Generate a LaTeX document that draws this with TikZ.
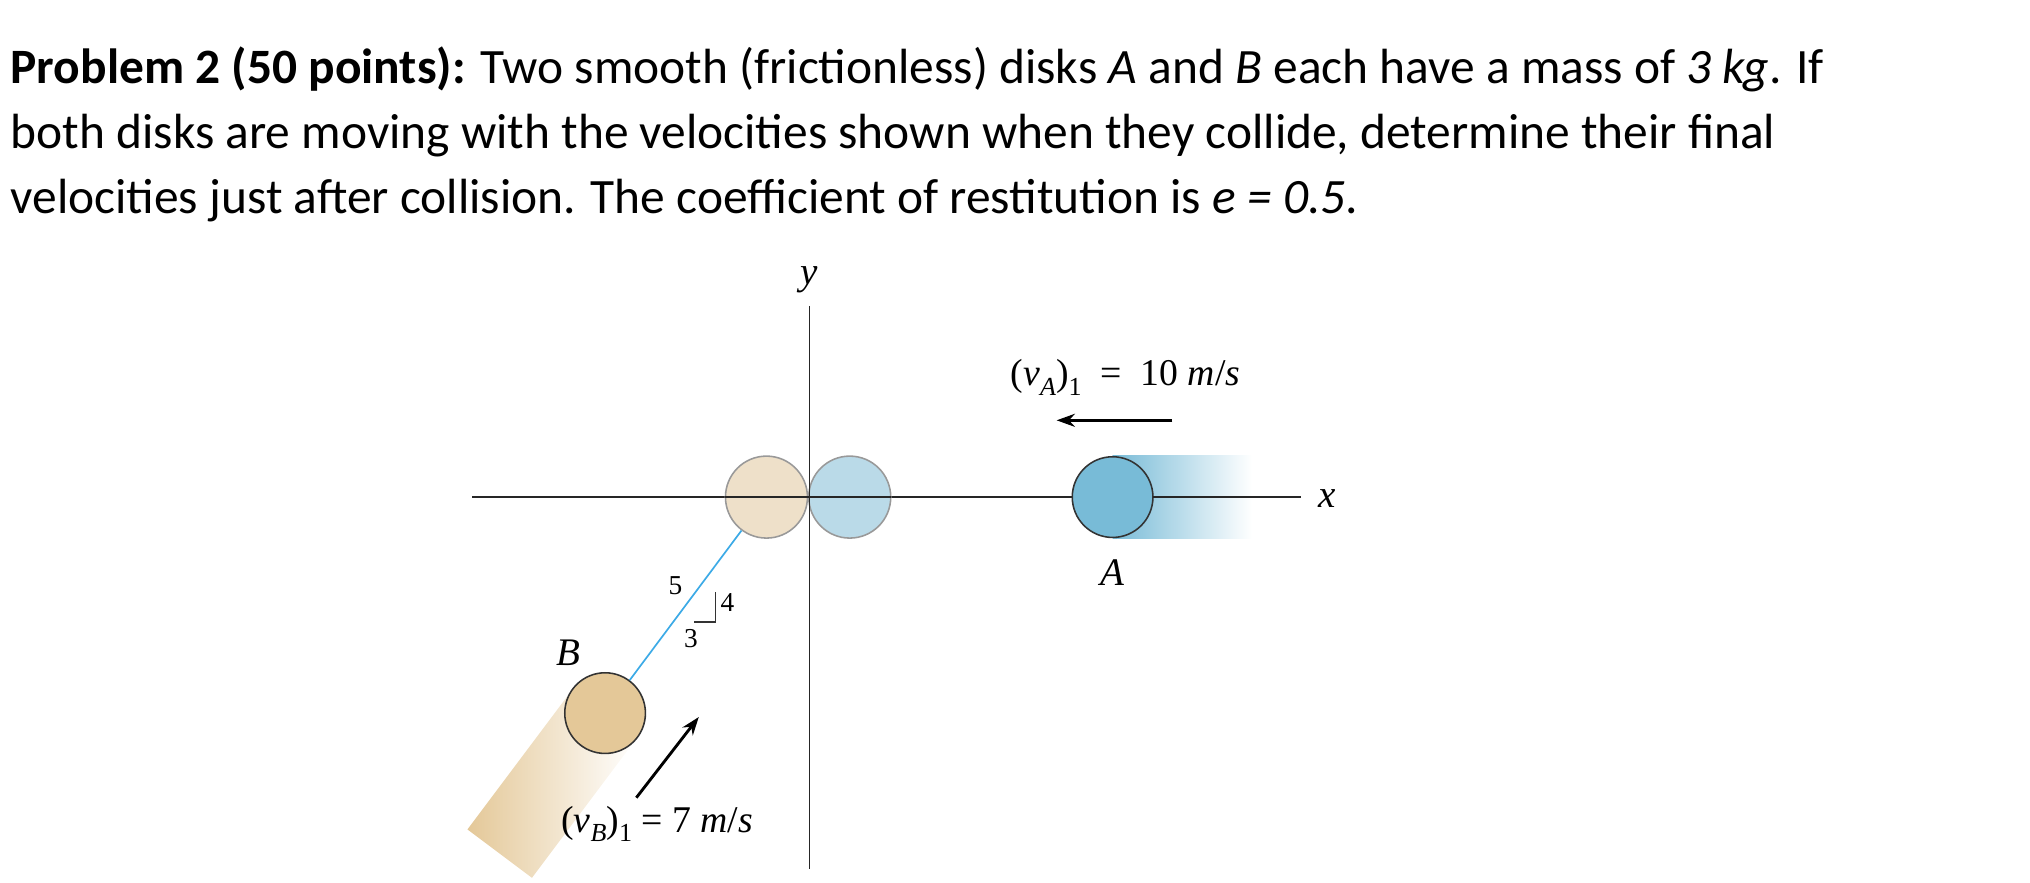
\documentclass[tikz,border=0pt]{standalone}
\usepackage{fontspec}
\setmainfont{Carlito}
\newfontfamily\figfont{Liberation Serif}
\usetikzlibrary{arrows.meta}
\definecolor{diskA}{RGB}{120,187,215}
\definecolor{ghostA}{RGB}{186,218,232}
\definecolor{diskB}{RGB}{228,200,152}
\definecolor{ghostB}{RGB}{238,224,201}
\definecolor{lineblue}{RGB}{60,170,230}
\tikzset{
  title/.style={anchor=base west,inner sep=0pt,font=\fontsize{38}{44}\selectfont},
  disk/.style={circle,draw=black!80,line width=1.2pt,minimum size=62pt,inner sep=0pt},
  ghost/.style={circle,draw=black!40,line width=1.2pt,minimum size=63pt,inner sep=0pt},
  lbl/.style={font=\figfont\fontsize{29}{32}\selectfont,inner sep=1pt},
  ilbl/.style={font=\figfont\itshape\fontsize{30}{32}\selectfont,inner sep=1pt},
  num/.style={font=\figfont\fontsize{21}{24}\selectfont,inner sep=1pt},
  axis/.style={line width=1.3pt,black!85},
  varrow/.style={line width=2.2pt,-{Stealth[length=14pt,width=10pt]}}
}
\newcommand{\sbs}[1]{\raisebox{-0.25em}{\fontsize{20}{22}\selectfont #1}}
\begin{document}
\begin{tikzpicture}[x=1pt,y=-1pt]
\useasboundingbox (0,0) rectangle (1560,678);
\node[title] (t1) at (8,64) {\textbf{Problem 2 (50 points):} Two smooth (frictionless) disks \textit{A} and \textit{B} each have a mass of \textit{3 kg}. If};
\node[title] (t2) at (8,114) {both disks are moving with the velocities shown when they collide, determine their final};
\node[title] (t3) at (8,164) {velocities just after collision. The coefficient of restitution is \textit{e = 0.5}.};
% trails
\shade[left color=diskA,right color=white] (855,350) rectangle (962,414);
\begin{scope}[shift={(465,548)},rotate=-126.87]
\shade[left color=diskB,right color=white] (0,-31) rectangle (135,31);
\end{scope}
% axes
\coordinate (xl) at (363,382); \coordinate (xr) at (1000,382);
\coordinate (yt) at (622,235); \coordinate (yb) at (622,668);
\draw[axis] (xl) -- (xr);
\draw[axis] (yt) -- (yb);
\node[ilbl] (xlab) at (1020,383) {x};
\node[ilbl] (ylab) at (622,215) {y};
% disks
\node[ghost,fill=ghostB] (gB) at (589,382) {};
\node[ghost,fill=ghostA] (gA) at (653,382) {};
\draw[axis] (622,340) -- (622,424);
\draw[axis] (557,382) -- (685,382);
\node[disk,fill=diskA] (A) at (855,382) {};
\draw[axis] (886,382) -- (xr);
\node[disk,fill=diskB] (B) at (465,548) {};
\draw[lineblue,line width=1.3pt] (B) -- (gB);
% slope triangle
\draw[black!80,line width=0.9pt] (550,455) -- (550,478) -- (533,478);
\node[num] (n5) at (519,450) {5};
\node[num] (n4) at (559,463) {4};
\node[num] (n3) at (531,491) {3};
% labels
\node[ilbl] (la) at (855,440) {A};
\node[ilbl] (lb) at (437,502) {B};
\node[lbl] (va) at (865,290) {(\textit{v}\sbs{\textit{A}})\sbs{1} \ = \ 10 \textit{m}/\textit{s}};
\node[lbl] (vb) at (505,633) {(\textit{v}\sbs{\textit{B}})\sbs{1} = 7 \textit{m}/\textit{s}};
\coordinate (a1) at (901,323); \coordinate (a2) at (812,323);
\draw[varrow] (a1) -- (a2);
\coordinate (b1) at (489,613); \coordinate (b2) at (537,551);
\draw[varrow] (b1) -- (b2);
\end{tikzpicture}
\end{document}
